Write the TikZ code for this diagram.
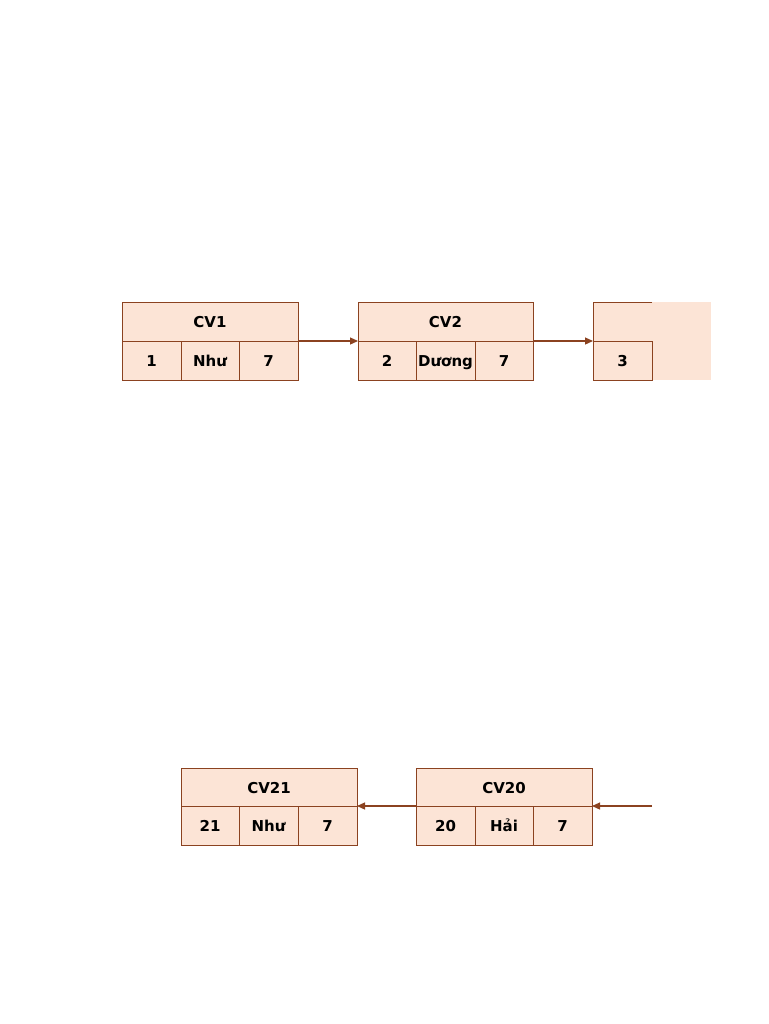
\documentclass[tikz,border=0pt]{standalone}
\usepackage{fontspec}
\setmainfont{DejaVu Sans}
\usetikzlibrary{arrows.meta}
\definecolor{bg}{HTML}{FCE4D6}
\definecolor{brd}{HTML}{8B4220}
\begin{document}
\begin{tikzpicture}[x=1pt,y=-1pt,
  cell/.style={draw=brd, fill=bg, line width=0.9pt, inner sep=0pt, outer sep=0pt, anchor=north west,
    minimum height=39pt, text height=12.6pt, text depth=0pt, text=black,
    font=\fontsize{15}{18}\selectfont\bfseries},
  link/.style={draw=brd, line width=1.2pt, -{Triangle[length=8pt,width=7pt]}}]
\useasboundingbox[fill=white] (0,0) rectangle (768,1024);
% CV1
\node[cell, minimum width=176pt] (h1) at (122,302) {CV1};
\node[cell, minimum width=59pt] (a1) at (122,341) {1};
\node[cell, minimum width=58pt] (b1) at (181,341) {Như};
\node[cell, minimum width=59pt] (c1) at (239,341) {7};
% CV2
\node[cell, minimum width=175pt] (h2) at (358,302) {CV2};
\node[cell, minimum width=58pt] (a2) at (358,341) {2};
\node[cell, minimum width=59pt] (b2) at (416,341) {Dương};
\node[cell, minimum width=58pt] (c2) at (475,341) {7};
% partial third
\fill[bg] (593,302) rectangle (711,380);
\node[cell, minimum width=59pt] (a3) at (593,341) {3};
\draw[brd, line width=0.9pt] (652,302) -- (593,302) -- (a3.north west);
% CV21
\node[cell, minimum width=176pt, minimum height=38pt] (h21) at (181,768) {CV21};
\node[cell, minimum width=58pt] (a21) at (181,806) {21};
\node[cell, minimum width=59pt] (b21) at (239,806) {Như};
\node[cell, minimum width=59pt] (c21) at (298,806) {7};
% CV20
\node[cell, minimum width=176pt, minimum height=38pt] (h20) at (416,768) {CV20};
\node[cell, minimum width=59pt] (a20) at (416,806) {20};
\node[cell, minimum width=58pt] (b20) at (475,806) {Hải};
\node[cell, minimum width=59pt] (c20) at (533,806) {7};
\coordinate (e) at (652,806);
% links
\draw[link] (h1.south east) -- (h2.south west);
\draw[link] (h2.south east) -- (a3.north west);
\draw[link] (h20.south west) -- (h21.south east);
\draw[link] (e) -- (h20.south east);
\end{tikzpicture}
\end{document}
